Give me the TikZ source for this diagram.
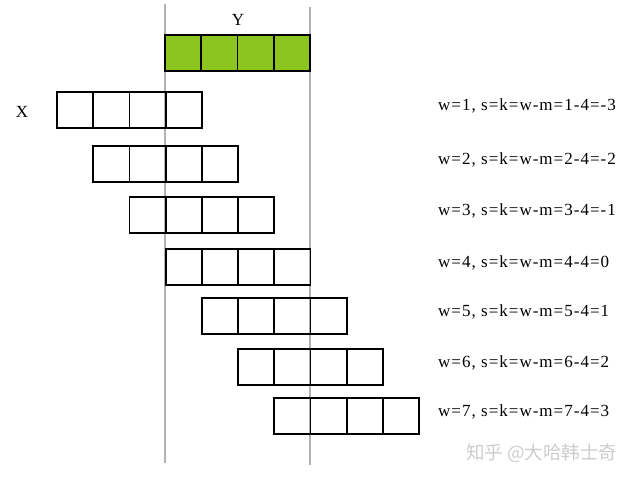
\documentclass[tikz,border=0pt]{standalone}
\usepackage{fontspec}
\usepackage{tikz}
\newfontfamily\lbfont{Liberation Serif}[LetterSpace=6]
\newfontfamily\cjkfont{Noto Sans CJK SC}
\definecolor{ygreen}{RGB}{140,196,32}

\begin{document}
\begin{tikzpicture}[x=1pt,y=-1pt,
	cell/.style={draw,line width=1.8pt,minimum size=36.2pt,inner sep=0pt},
	ycell/.style={cell,fill=ygreen},
	guide/.style={draw=black!30,line width=1.3pt},
	lbl/.style={anchor=west,inner sep=0pt,font=\lbfont\fontsize{17}{20}\selectfont}]
	\useasboundingbox (0,0) rectangle (639,477);
	% the two guide lines
	\coordinate (gl-top) at (165,4);
	\coordinate (gl-bot) at (165,463);
	\coordinate (gr-top) at (310,7);
	\coordinate (gr-bot) at (310,465);
	\draw[guide] (gl-top) -- (gl-bot);
	\draw[guide] (gr-top) -- (gr-bot);
	% Y
	\foreach \j in {1,...,4}
		\node[ycell] (y-\j) at ({165+36.2*(\j-0.5)},53) {};
	\node[lbl,anchor=center] (ylab) at (238,20) {Y};
	\node[lbl,anchor=center] (xlab) at (22,112) {X};
	% X shifted by w
	\foreach \t [count=\i] in {92,146,197,249,298,349,398} {
		\foreach \j in {1,...,4}
			\node[cell] (x-\i-\j) at ({57+36.2*(\i-1)+36.2*(\j-0.5)},\t+18) {};
		\pgfmathtruncatemacro\s{\i-4}
		\node[lbl] (w-\i) at (438,\t+14) {w=\i, s=k=w-m=\i-4=\s};
	}
	\node[anchor=west,inner sep=0pt,text=black!20,font=\cjkfont\fontsize{18.5}{20}\selectfont] (mark) at (466,453) {知乎 @大哈韩士奇};
\end{tikzpicture}
\end{document}
